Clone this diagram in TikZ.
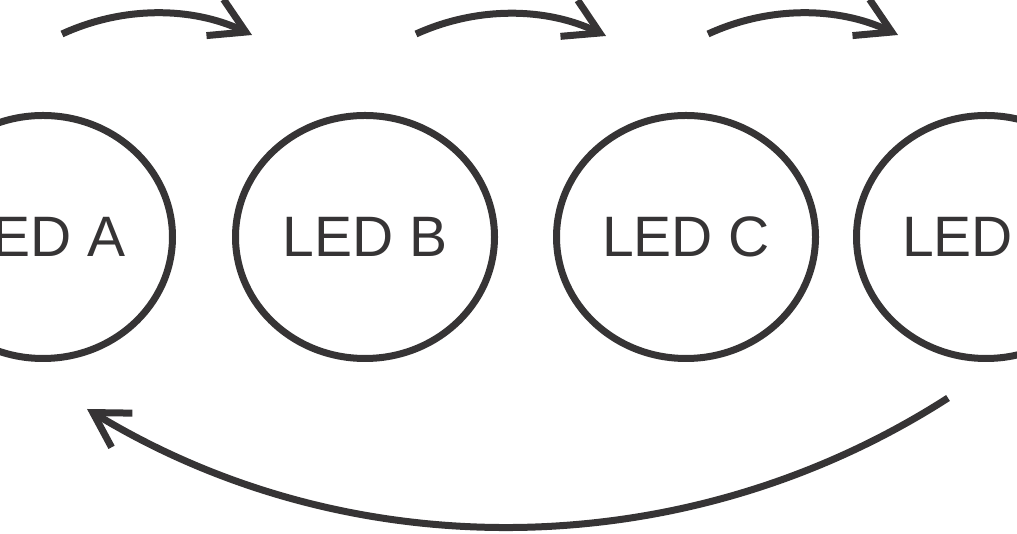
\documentclass[tikz,border=0pt]{standalone}
\usepackage{fontspec}
\setmainfont{Liberation Sans}
\usetikzlibrary{arrows.meta,shapes.geometric,positioning}
\definecolor{ledgray}{RGB}{54,52,53}

\begin{document}
\begin{tikzpicture}[
    x=1pt, y=1pt,
    led/.style={ellipse, draw=ledgray, line width=7pt, minimum width=259pt,
        minimum height=243pt, inner sep=0pt, text=ledgray,
        font=\fontsize{57}{62}\selectfont},
    flow/.style={draw=ledgray, line width=7pt,
        -{Straight Barb[length=34pt,width=40pt]}}
]
    \clip (0,0) rectangle (1017,534);
    % the four LEDs
    \node[led] (ledA) at (43,297) {LED A};
    \node[led] (ledB) at (365,297) {LED B};
    \node[led] (ledC) at (686,297) {LED C};
    \node[led] (ledD) at (986,297) {LED D};
    % arrow ends
    \coordinate (abS) at (62,500);
    \coordinate (abE) at (252,499);
    \coordinate (bcS) at (416,500);
    \coordinate (bcE) at (606,498);
    \coordinate (cdS) at (708,500);
    \coordinate (cdE) at (898,499);
    \coordinate (daS) at (948,136);
    \coordinate (daE) at (87,125);
    \draw[flow] (abS) to[bend left=25, looseness=0.9] (abE);
    \draw[flow] (bcS) to[bend left=25, looseness=0.9] (bcE);
    \draw[flow] (cdS) to[bend left=25, looseness=0.9] (cdE);
    \draw[flow] (daS) to[bend left=32, looseness=0.92] (daE);
\end{tikzpicture}
\end{document}
